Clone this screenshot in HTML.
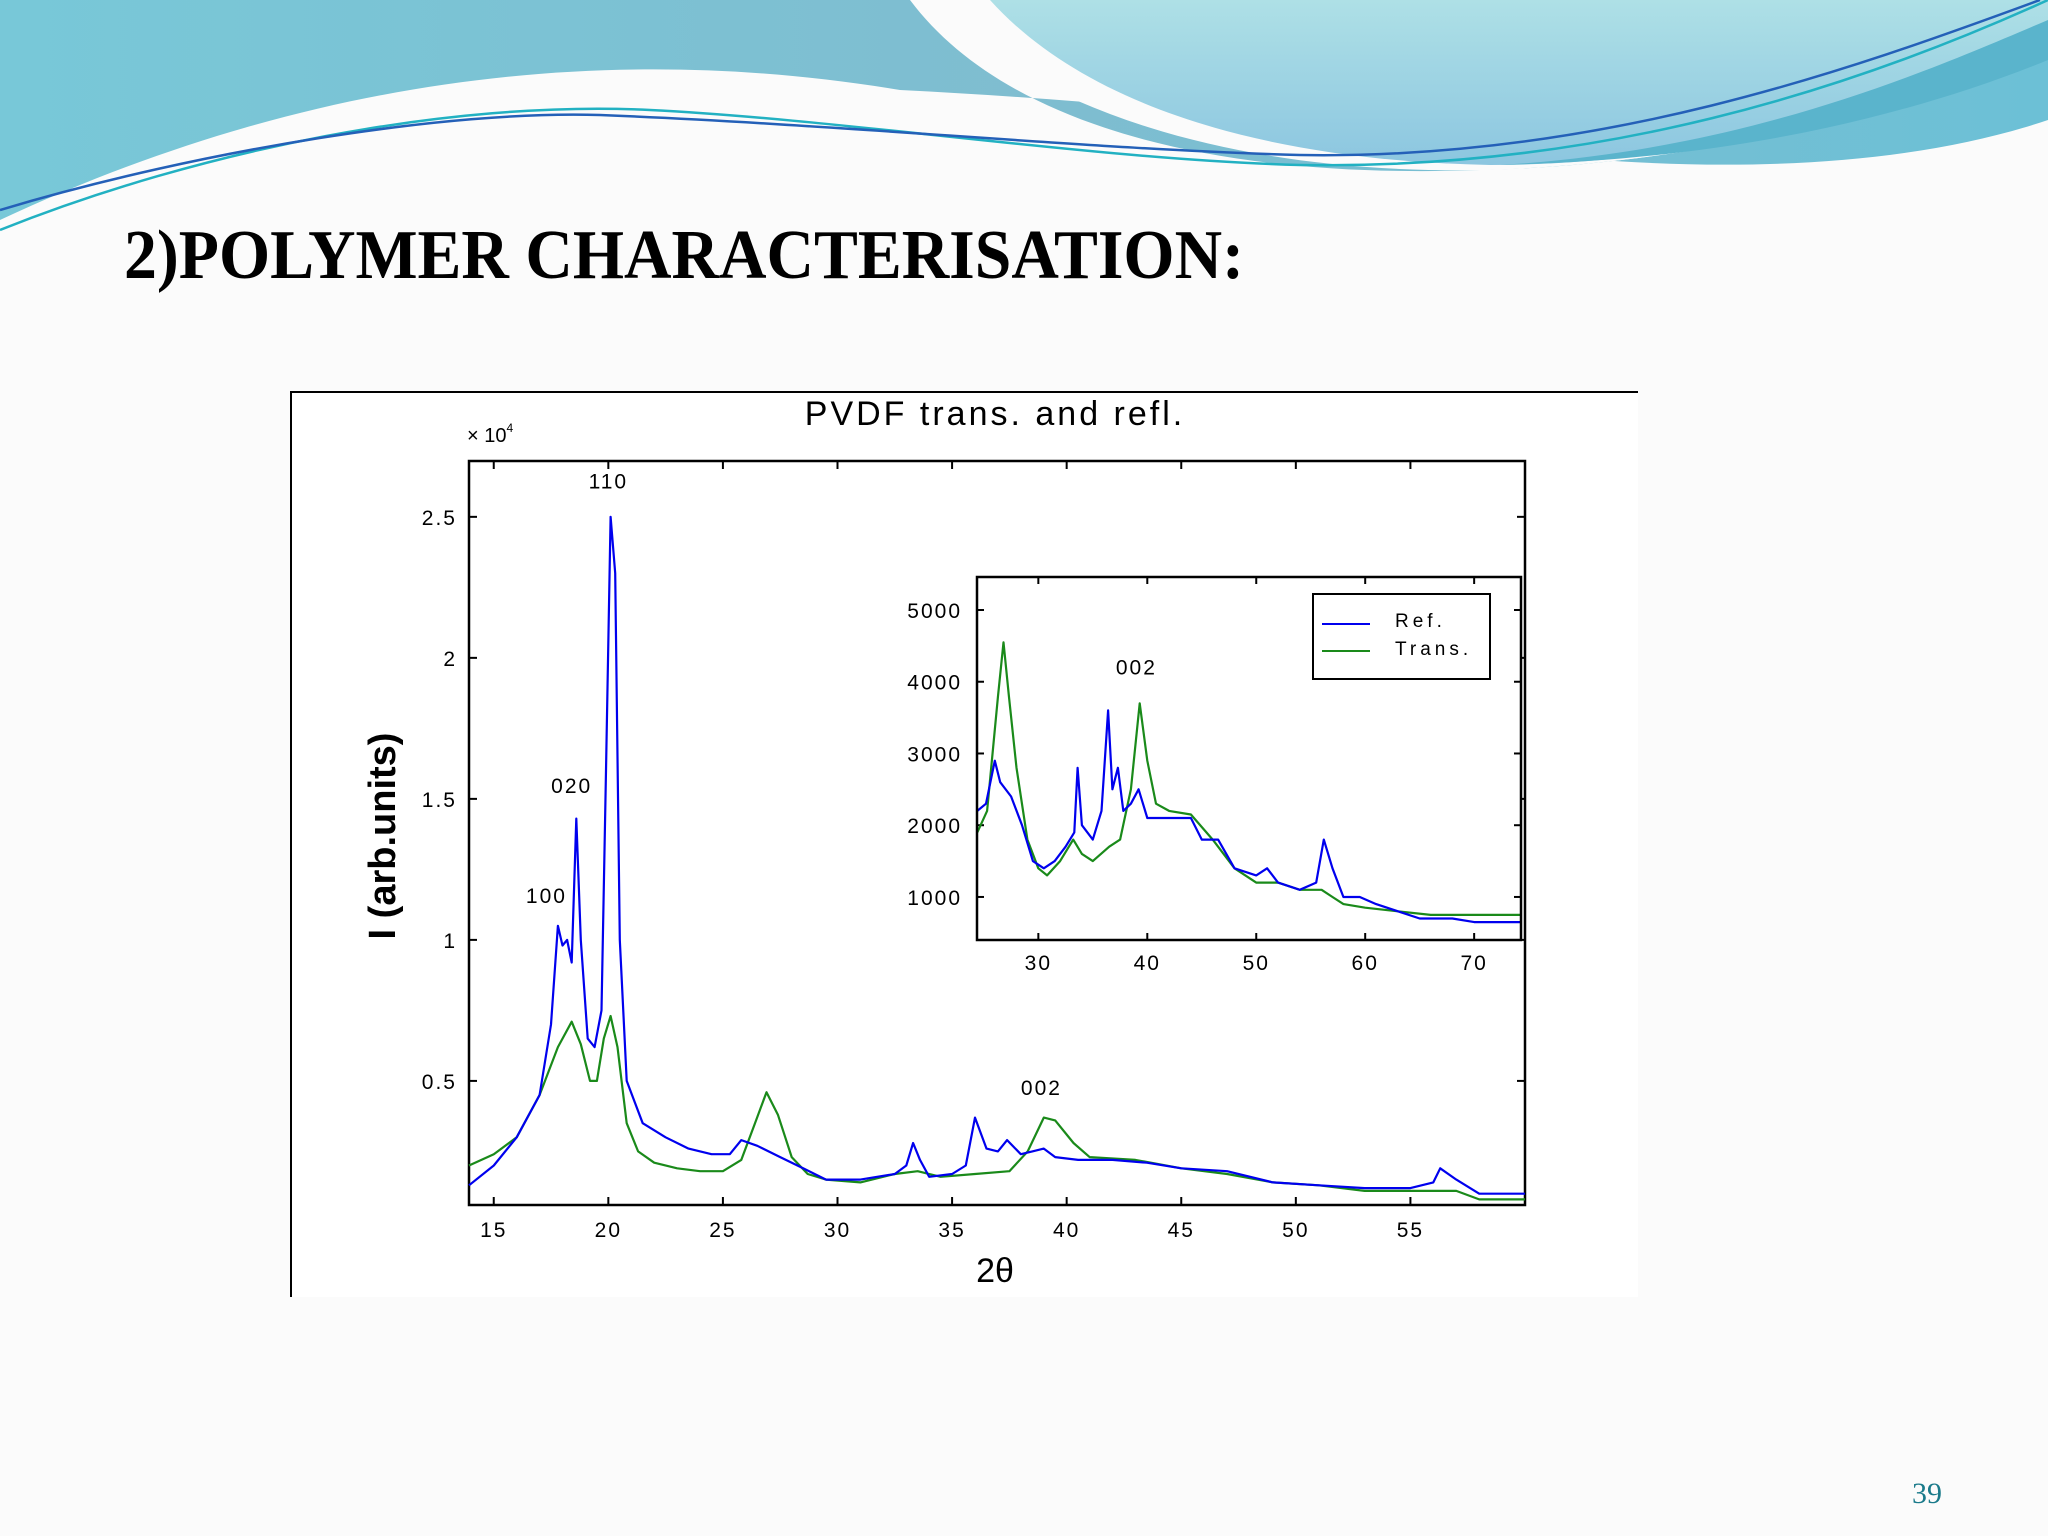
<!DOCTYPE html>
<html><head><meta charset="utf-8">
<style>
html,body{margin:0;padding:0;background:#fbfbfb;}
svg{display:block;}
text{font-family:"Liberation Sans",sans-serif;}
</style></head>
<body>
<svg id="slide" width="2048" height="1536" viewBox="0 0 2048 1536" xmlns="http://www.w3.org/2000/svg">
 <defs>
  <linearGradient id="g1" x1="0" y1="0" x2="1" y2="0">
   <stop offset="0" stop-color="#78c8d8"/><stop offset="0.5" stop-color="#7fbdd0"/><stop offset="1" stop-color="#6cc0d6"/>
  </linearGradient>
  <linearGradient id="g2" x1="0" y1="0" x2="0" y2="1">
   <stop offset="0" stop-color="#aee0e6"/><stop offset="1" stop-color="#8cc6e0"/>
  </linearGradient>
 </defs>
 <g>
  <path d="M0 0 H910 C1000 120 1200 180 1480 170 C1700 165 1900 110 2048 50 V120 C1900 170 1700 175 1500 150 C1300 120 1100 100 900 90 C600 40 300 80 0 220 Z" fill="url(#g1)"/>
  <path d="M0 0 H920 C1050 120 1250 175 1490 170 C1750 160 1920 100 2048 40 V0 Z" fill="#fbfbfb"/>
  <path d="M990 0 H2048 V40 C1900 110 1700 165 1490 165 C1250 160 1080 100 990 0 Z" fill="url(#g2)"/>
  <path d="M1500 165 C1750 150 1930 70 2048 20 V60 C1900 120 1720 160 1500 165 Z" fill="#5ab4cc"/>
  <path d="M0 230 C200 150 450 100 650 110 C850 120 1100 160 1300 165 C1600 170 1850 90 2048 0" fill="none" stroke="#22b1c2" stroke-width="2.5"/>
  <path d="M0 210 C200 150 450 110 600 115 C850 125 1100 150 1300 155 C1600 160 1850 70 2040 0" fill="none" stroke="#2460b8" stroke-width="2.5"/>
 </g>
 <text x="124" y="278" font-family="'Liberation Serif',serif" font-weight="bold" font-size="70" textLength="1120" lengthAdjust="spacingAndGlyphs" fill="#000" style="font-family:'Liberation Serif',serif">2)POLYMER CHARACTERISATION:</text>
 <text x="1927" y="1503" font-size="30" fill="#1a7a8a" text-anchor="middle" style="font-family:'Liberation Serif',serif">39</text>

 <g>
  <rect x="290" y="392" width="1348" height="905" fill="#fff"/>
  <line x1="290" y1="392" x2="1638" y2="392" stroke="#000" stroke-width="2"/>
  <line x1="291" y1="392" x2="291" y2="1297" stroke="#000" stroke-width="2"/>
  <text x="995" y="425" font-size="34" text-anchor="middle" letter-spacing="3">PVDF trans. and refl.</text>
  <text x="467" y="442" font-size="20">× 10<tspan dy="-10" font-size="12">4</tspan></text>
  <text transform="translate(395,836) rotate(-90)" font-size="38" font-weight="bold" text-anchor="middle">I (arb.units)</text>
  <text x="995" y="1282" font-size="34" text-anchor="middle">2θ</text>
  <g id="main"></g>
  <g id="inset"></g>
 </g>
</svg>
<script>
// ---- main chart data ----
const mainXTicks=[15,20,25,30,35,40,45,50,55];
const mainYTicks=[0.5,1,1.5,2,2.5];
const mainYTickLabels=["0.5","1","1.5","2","2.5"];
const refX=[13.92,15,16,17,17.5,17.8,18.0,18.2,18.4,18.6,18.8,19.1,19.4,19.7,19.9,20.1,20.3,20.5,20.8,21.5,22.5,23.5,24.5,25.3,25.8,26.5,27.5,28.5,29.5,31,32.5,33,33.3,33.6,34,35,35.6,36,36.5,37,37.4,38,38.5,39,39.5,40.5,42,43.5,45,47,49,51,53,55,56,56.3,57,58,60];
const refY=[0.13,0.2,0.3,0.45,0.7,1.05,0.98,1.0,0.92,1.43,1.0,0.65,0.62,0.75,1.6,2.5,2.3,1.0,0.5,0.35,0.3,0.26,0.24,0.24,0.29,0.27,0.23,0.19,0.15,0.15,0.17,0.2,0.28,0.22,0.16,0.17,0.2,0.37,0.26,0.25,0.29,0.24,0.25,0.26,0.23,0.22,0.22,0.21,0.19,0.18,0.14,0.13,0.12,0.12,0.14,0.19,0.15,0.1,0.1];
const transX=[13.92,15,16,17,17.8,18.4,18.8,19.2,19.5,19.8,20.1,20.4,20.8,21.3,22,23,24,25,25.8,26.4,26.9,27.4,28,28.7,29.5,31,32.5,33.5,34.5,36,37.5,38.3,39,39.5,40.3,41,43,45,47,49,51,53,55,57,58,60];
const transY=[0.2,0.24,0.3,0.45,0.62,0.71,0.63,0.5,0.5,0.65,0.73,0.62,0.35,0.25,0.21,0.19,0.18,0.18,0.22,0.35,0.46,0.38,0.23,0.17,0.15,0.14,0.17,0.18,0.16,0.17,0.18,0.25,0.37,0.36,0.28,0.23,0.22,0.19,0.17,0.14,0.13,0.11,0.11,0.11,0.08,0.08];
const mainPeakLabels=["110","020","100","002"];
const mainPeakX=[20.0,18.4,17.3,38.9];
const mainPeakY=[2.6,1.52,1.13,0.45];
// ---- inset data ----
const insetXTicks=[30,40,50,60,70];
const insetYTicks=[1000,2000,3000,4000,5000];
const insetRefX=[24.4,25.2,26,26.5,27.5,28.5,29.5,30.5,31.5,32.5,33.3,33.6,34,35,35.8,36.4,36.8,37.3,37.8,38.5,39.2,40,42,44,45,46.5,48,50,51,52,54,55.5,56.2,57,58,59.5,61,63,65,68,70,74.3];
const insetRefY=[2200,2300,2900,2600,2400,2000,1500,1400,1500,1700,1900,2800,2000,1800,2200,3600,2500,2800,2200,2300,2500,2100,2100,2100,1800,1800,1400,1300,1400,1200,1100,1200,1800,1400,1000,1000,900,800,700,700,650,650];
const insetTransX=[24.4,25.3,26.3,26.8,27.3,28,29,30,30.8,32,33.2,34,35,36.5,37.5,38.5,39.3,40,40.8,42,44,46,48,50,52,54,56,57,58,60,63,66,70,74.3];
const insetTransY=[1900,2200,3800,4550,3800,2800,1800,1400,1300,1500,1800,1600,1500,1700,1800,2500,3700,2900,2300,2200,2150,1800,1400,1200,1200,1100,1100,1000,900,850,800,750,750,750];
const insetLabel="002";
const insetLabelX=39.0;
const insetLabelY=4100;

const NS="http://www.w3.org/2000/svg";
function el(tag,attrs,parent,txt){const e=document.createElementNS(NS,tag);for(const k in attrs)e.setAttribute(k,attrs[k]);if(txt!==undefined)e.textContent=txt;parent.appendChild(e);return e;}

// main axes
const M={l:469,r:1525,t:461,b:1205,x0:13.92,x1:60,y0:0.06,y1:2.698};
const mx=v=>M.l+(v-M.x0)/(M.x1-M.x0)*(M.r-M.l);
const my=v=>M.b-(v-M.y0)/(M.y1-M.y0)*(M.b-M.t);
const gm=document.getElementById('main');
let frame=el('rect',{x:M.l,y:M.t,width:M.r-M.l,height:M.b-M.t,fill:'none',stroke:'#000','stroke-width':2.5},gm);


mainXTicks.forEach(t=>{
 el('line',{x1:mx(t),x2:mx(t),y1:M.b,y2:M.b-8,stroke:'#000','stroke-width':2},gm);
 el('line',{x1:mx(t),x2:mx(t),y1:M.t,y2:M.t+8,stroke:'#000','stroke-width':2},gm);
 const tl=el('text',{x:mx(t),y:M.b+32,'font-size':21,'text-anchor':'middle','letter-spacing':2},gm,String(t));
 
 
});
mainYTicks.forEach((t,i)=>{
 el('line',{x1:M.l,x2:M.l+8,y1:my(t),y2:my(t),stroke:'#000','stroke-width':2},gm);
 el('line',{x1:M.r,x2:M.r-8,y1:my(t),y2:my(t),stroke:'#000','stroke-width':2},gm);
 const tl=el('text',{x:M.l-12,y:my(t)+8,'font-size':21,'text-anchor':'end','letter-spacing':2},gm,mainYTickLabels[i]);
 
 
});
function line(xs,ys,fx,fy,col,parent,name){
 const p=el('polyline',{points:xs.map((x,i)=>fx(x).toFixed(1)+','+fy(ys[i]).toFixed(1)).join(' '),fill:'none',stroke:col,'stroke-width':2.2,'stroke-linejoin':'round'},parent);
 
 
}
line(transX,transY,mx,my,'#1a8a1a',gm,'trans-series-line');
line(refX,refY,mx,my,'#0000ee',gm,'ref-series-line');
mainPeakLabels.forEach((s,i)=>{
 const t=el('text',{x:mx(mainPeakX[i]),y:my(mainPeakY[i]),'font-size':21,'text-anchor':'middle','letter-spacing':2},gm,s);
 
 
});

// inset axes
const I={l:977,r:1521,t:577,b:940,x0:24.37,x1:74.3,y0:400,y1:5460};
const ix=v=>I.l+(v-I.x0)/(I.x1-I.x0)*(I.r-I.l);
const iy=v=>I.b-(v-I.y0)/(I.y1-I.y0)*(I.b-I.t);
const gi=document.getElementById('inset');
el('rect',{x:I.l,y:I.t,width:I.r-I.l,height:I.b-I.t,fill:'#fff',stroke:'none'},gi);
insetXTicks.forEach(t=>{
 el('line',{x1:ix(t),x2:ix(t),y1:I.b,y2:I.b-7,stroke:'#000','stroke-width':2},gi);
 el('line',{x1:ix(t),x2:ix(t),y1:I.t,y2:I.t+7,stroke:'#000','stroke-width':2},gi);
 const tl=el('text',{x:ix(t),y:I.b+30,'font-size':21,'text-anchor':'middle','letter-spacing':2},gi,String(t));
 
 
});
insetYTicks.forEach(t=>{
 el('line',{x1:I.l,x2:I.l+7,y1:iy(t),y2:iy(t),stroke:'#000','stroke-width':2},gi);
 el('line',{x1:I.r,x2:I.r-7,y1:iy(t),y2:iy(t),stroke:'#000','stroke-width':2},gi);
 const tl=el('text',{x:I.l-15,y:iy(t)+8,'font-size':21,'text-anchor':'end','letter-spacing':2},gi,String(t));
 
 
});
line(insetTransX,insetTransY,ix,iy,'#1a8a1a',gi,'inset-trans-line');
line(insetRefX,insetRefY,ix,iy,'#0000ee',gi,'inset-ref-line');
let ifr=el('rect',{x:I.l,y:I.t,width:I.r-I.l,height:I.b-I.t,fill:'none',stroke:'#000','stroke-width':2.5},gi);


const il=el('text',{x:ix(insetLabelX),y:iy(insetLabelY),'font-size':21,'text-anchor':'middle','letter-spacing':2},gi,insetLabel);


// legend
const lg=el('g',{},gi);


el('rect',{x:1313,y:594,width:177,height:85,fill:'#fff',stroke:'#000','stroke-width':2},lg);
el('line',{x1:1322,x2:1370,y1:624,y2:624,stroke:'#0000ee','stroke-width':2},lg);
el('line',{x1:1322,x2:1370,y1:651,y2:651,stroke:'#1a8a1a','stroke-width':2},lg);
const l1=el('text',{x:1395,y:627,'font-size':19,'letter-spacing':4},lg,'Ref.');


const l2=el('text',{x:1395,y:655,'font-size':19,'letter-spacing':4},lg,'Trans.');


</script>
</body></html>
